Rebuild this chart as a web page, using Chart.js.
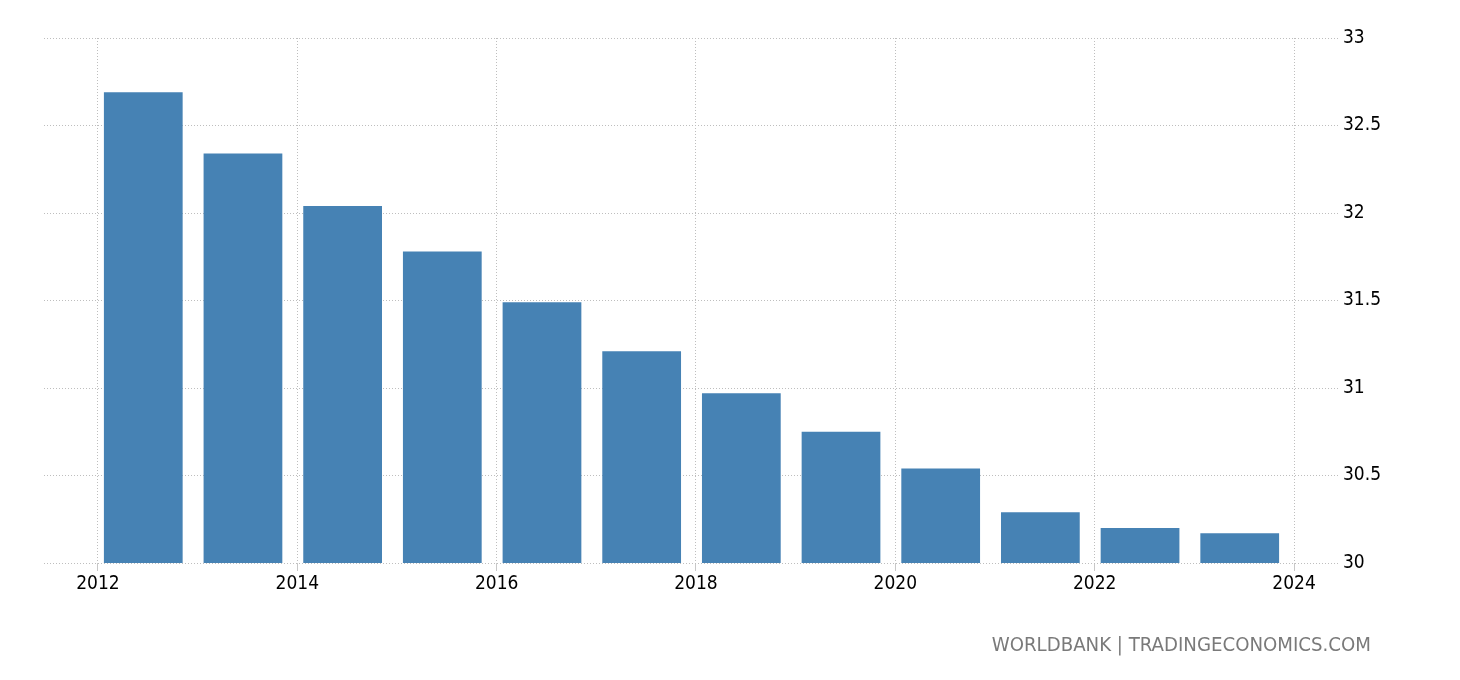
<!DOCTYPE html>
<html>
<head>
<meta charset="utf-8">
<script src="https://cdn.jsdelivr.net/npm/chart.js@4.4.1/dist/chart.umd.min.js"></script>
<style>
  html, body { margin: 0; padding: 0; background: #fff; }
  #wrap { position: relative; width: 1460px; height: 680px; }
  #source {
    position: absolute; right: 89px; top: 634px;
    font: 20.2px/20px "DejaVu Sans Condensed", "DejaVu Sans", sans-serif;
    color: #7a7a7a; white-space: nowrap;
  }
</style>
</head>
<body>
<div id="wrap">
  <canvas id="chart"></canvas>
  <div id="source">WORLDBANK | TRADINGECONOMICS.COM</div>
</div>
<script>
// yearly values
const years = [2012, 2013, 2014, 2015, 2016, 2017, 2018, 2019, 2020, 2021, 2022, 2023];
const values = [32.69, 32.34, 32.04, 31.78, 31.49, 31.21, 30.97, 30.75, 30.54, 30.29, 30.20, 30.17];
const xTicks = [2012, 2014, 2016, 2018, 2020, 2022, 2024];
const yTicks = [30, 30.5, 31, 31.5, 32, 32.5, 33];

// bars sit a bit before mid-year on the time axis
const barOffset = 0.455;

const gridColor = "#bebebe";
const tickFont = { family: "'DejaVu Sans Condensed', 'DejaVu Sans'", size: 19 };

new Chart(document.getElementById("chart"), {
    type: "bar",
    data: {
        datasets: [
            {
                data: years.map((y, i) => ({ x: y + barOffset, y: values[i] })),
                backgroundColor: "#4682b4",
                barPercentage: 0.79,
                categoryPercentage: 1,
            },
        ],
    },
    options: {
        responsive: true,
        maintainAspectRatio: false,
        devicePixelRatio: 1,
        animation: false,
        layout: { padding: { top: 38, left: 44, right: 0, bottom: 0 } },
        plugins: { legend: { display: false }, tooltip: { enabled: false } },
        scales: {
            x: {
                type: "linear",
                offset: false,
                min: 2011.459,
                max: 2024.441,
                afterBuildTicks: (scale) => {
                    scale.ticks = xTicks.map((v) => ({ value: v }));
                },
                afterFit: (scale) => {
                    scale.height = 117;
                },
                border: { display: false, dash: [1, 2] },
                grid: {
                    offset: false,
                    color: gridColor,
                    tickLength: 8,
                    tickColor: "#c8c8c8",
                    tickWidth: 1,
                    tickBorderDash: [],
                },
                ticks: {
                    color: "#000",
                    font: tickFont,
                    padding: 2,
                    maxRotation: 0,
                    callback: (v) => String(v),
                },
            },
            y: {
                position: "right",
                min: 30,
                max: 33,
                afterBuildTicks: (scale) => {
                    scale.ticks = yTicks.map((v) => ({ value: v }));
                },
                afterFit: (scale) => {
                    scale.width = 122;
                },
                border: { display: false, dash: [1, 2] },
                grid: {
                    color: gridColor,
                    drawTicks: false,
                },
                ticks: {
                    color: "#000",
                    font: tickFont,
                    padding: 5,
                    callback: (v) => String(v),
                },
            },
        },
    },
});
</script>
</body>
</html>
